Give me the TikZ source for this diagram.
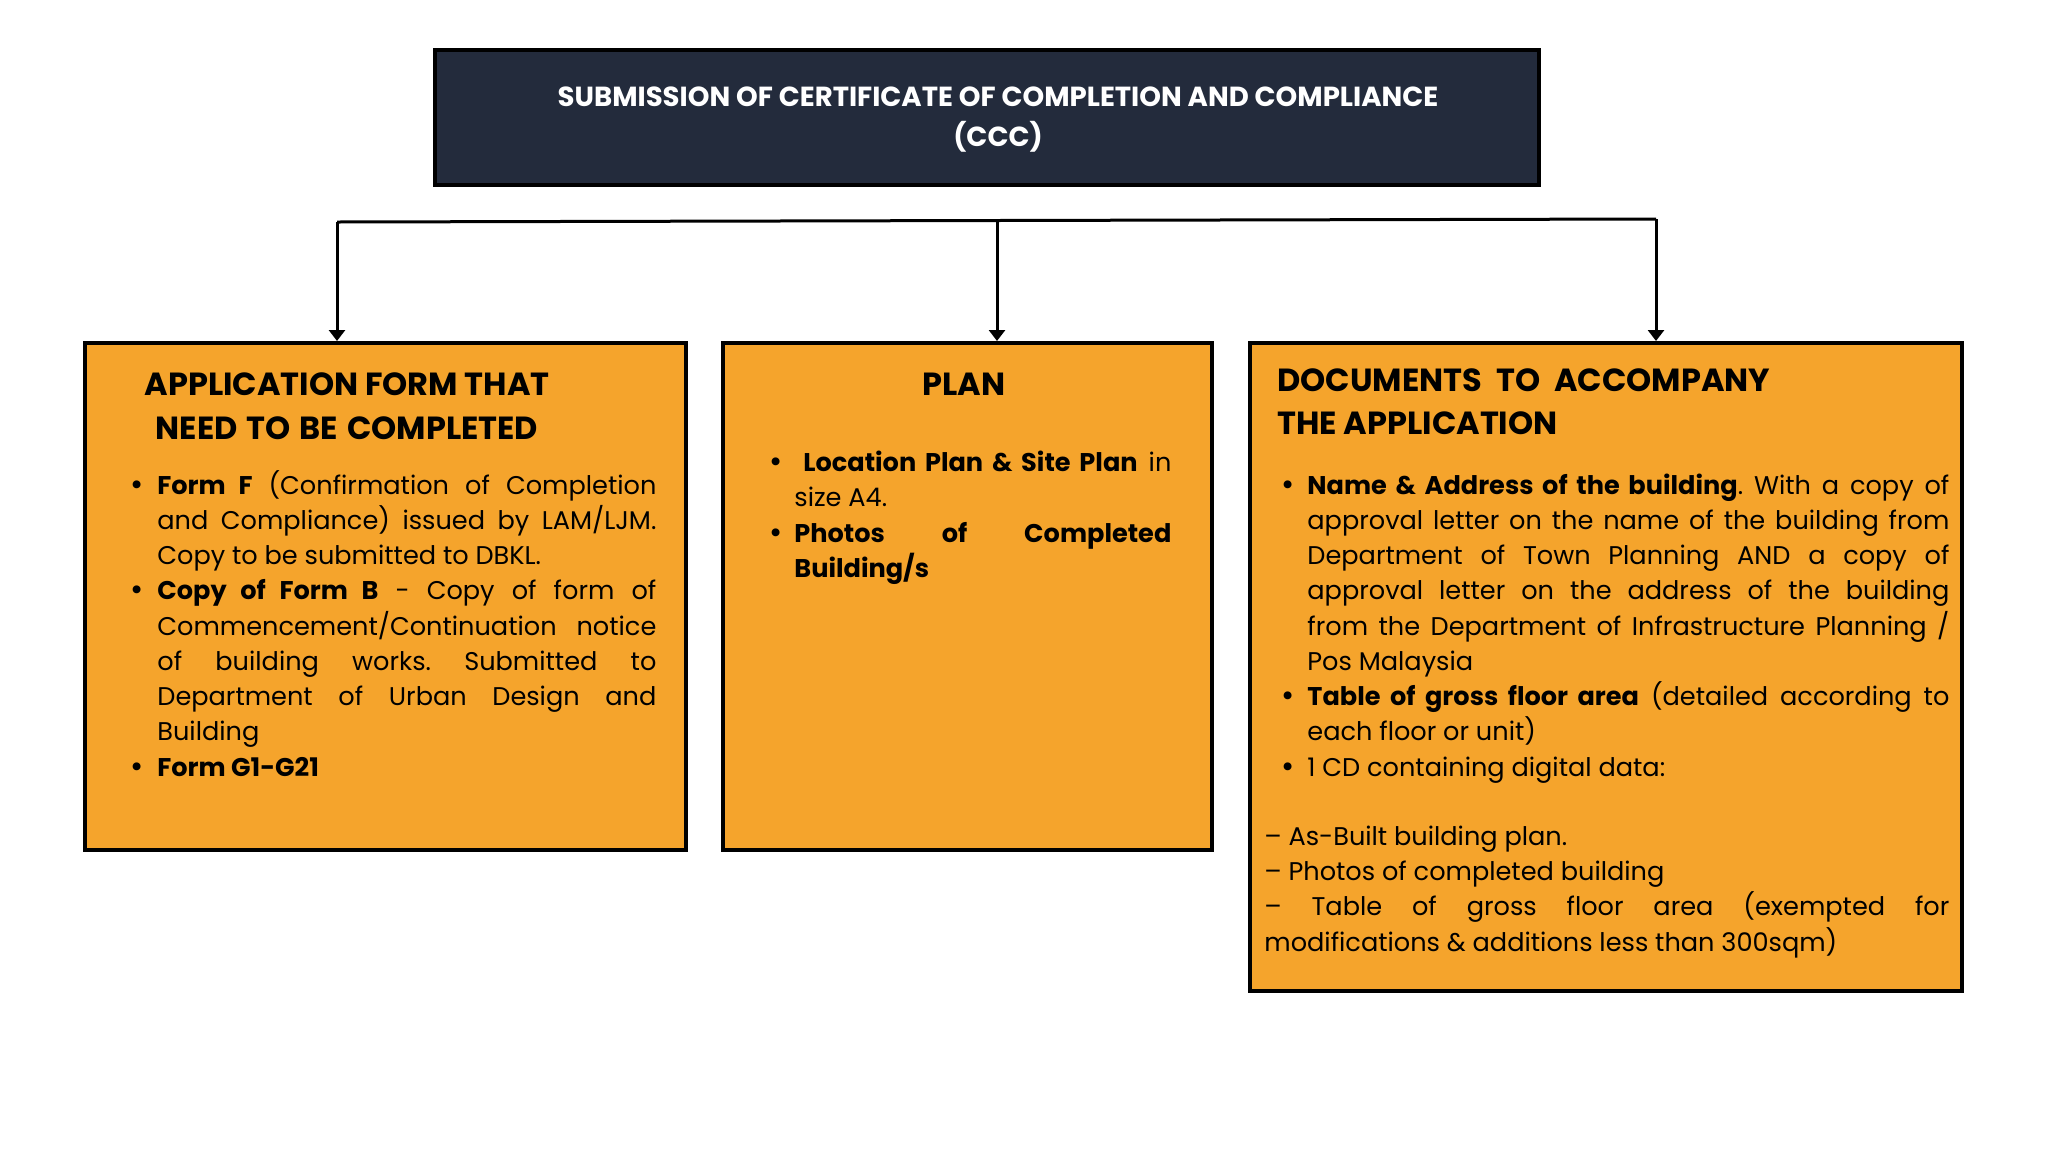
\documentclass[tikz,border=0pt]{standalone}
\usepackage{fontspec}
\setmainfont{Poppins}
\usetikzlibrary{arrows.meta}
\definecolor{navy}{HTML}{232B3C}
\definecolor{boxorange}{HTML}{F5A42C}
\newcommand\bodyf{\fontsize{12.8pt}{15pt}\selectfont\frenchspacing}
\newcommand\bulf{\fontsize{16pt}{15pt}\selectfont}
\newcommand\headf{\fontsize{16pt}{19pt}\selectfont\bfseries}
\newcommand\titlef{\fontsize{13.8pt}{16pt}\selectfont\bfseries}
\newcommand\jl[2]{\makebox[#1][s]{#2}}
\begin{document}
\begin{tikzpicture}[x=0.5pt,y=-0.5pt,
  box/.style={draw=black, line width=2pt, fill=boxorange, inner sep=0pt},
  titlebox/.style={draw=black, line width=2pt, fill=navy, inner sep=0pt},
  txt/.style={anchor=base west, inner sep=0pt, font=\bodyf, text=black},
  bul/.style={anchor=base, inner sep=0pt, font=\bulf, text=black},
  head/.style={anchor=base west, inner sep=0pt, font=\headf, text=black},
  headc/.style={anchor=base, inner sep=0pt, font=\headf, text=black},
  ttl/.style={anchor=base, inner sep=0pt, font=\titlef, text=white},
  link/.style={line width=1.5pt, draw=black},
  arr/.style={line width=1.5pt, draw=black, -{Triangle[width=8pt,length=5.5pt]}}]
\fill[white] (0,0) rectangle (2048,1152);
\useasboundingbox (0,0) rectangle (2048,1152);

% title
\node[titlebox, minimum width=552pt, minimum height=67.5pt] (T) at (987,117.5) {};
\node[ttl] (T1) at (998,106) {SUBMISSION OF CERTIFICATE OF COMPLETION AND COMPLIANCE};
\node[ttl] (T2) at (998,146) {(CCC)};

% boxes
\node[box, minimum width=300.5pt, minimum height=253.5pt] (A) at (385.5,596.5) {};
\node[box, minimum width=244.5pt, minimum height=253.5pt] (B) at (967.5,596.5) {};
\node[box, minimum width=356pt, minimum height=324pt] (C) at (1606,667) {};

% connectors
\coordinate (jl) at (337,222);
\coordinate (jm) at (997,220.5);
\coordinate (jr) at (1656,219);
\draw[link] (jl) -- (jm) -- (jr);
\draw[arr] (jl) -- (jl |- A.north);
\draw[arr] (jm) -- (jm |- B.north);
\draw[arr] (jr) -- (jr |- C.north);

% left box text
\node[headc] (AH1) at (347,395) {APPLICATION FORM THAT};
\node[headc] (AH2) at (347,439) {NEED\hspace{4.5pt}TO\hspace{4.5pt}BE\hspace{4.5pt}COMPLETED};
\node[bul] (Ab1) at (137,495) {•};
\node[txt] (A1) at (157,494) {\jl{249.5pt}{\textbf{Form F} (Confirmation of Completion}};
\node[txt] (A2) at (157,529) {\jl{249.5pt}{and Compliance) issued by LAM/LJM.}};
\node[txt] (A3) at (157,564) {Copy to be submitted to DBKL.};
\node[bul] (Ab2) at (137,600) {•};
\node[txt] (A4) at (157,599) {\jl{249.5pt}{\textbf{Copy of Form B} - Copy of form of}};
\node[txt] (A5) at (157,635) {\jl{249.5pt}{Commencement/Continuation notice}};
\node[txt] (A6) at (157,670) {\jl{249.5pt}{of building works. Submitted to}};
\node[txt] (A7) at (157,705) {\jl{249.5pt}{Department of Urban Design and}};
\node[txt] (A8) at (157,740) {Building};
\node[bul] (Ab3) at (137,777) {•};
\node[txt] (A9) at (157,776) {\textbf{Form G1-G21}};

% middle box text
\node[headc] (BH) at (964,395) {PLAN};
\node[bul] (Bb1) at (776,472) {•};
\node[txt] (B1) at (803,471) {\jl{184pt}{\textbf{Location Plan \& Site Plan} in}};
\node[txt] (B2) at (794,506.5) {size A4.};
\node[bul] (Bb2) at (776,543) {•};
\node[txt] (B3) at (794,542) {\jl{188.5pt}{\textbf{Photos of Completed}}};
\node[txt] (B4) at (794,577) {\textbf{Building/s}};

% right box text
\node[head] (CH1) at (1277,391) {DOCUMENTS\hspace{7pt}TO\hspace{7pt}ACCOMPANY};
\node[head] (CH2) at (1277,434) {THE APPLICATION};
\node[bul] (Cb1) at (1288,495) {•};
\node[txt] (C1) at (1307,494) {\jl{321pt}{\textbf{Name \& Address of the building}. With a copy of}};
\node[txt] (C2) at (1307,529) {\jl{321pt}{approval letter on the name of the building from}};
\node[txt] (C3) at (1307,564) {\jl{321pt}{Department of Town Planning AND a copy of}};
\node[txt] (C4) at (1307,599) {\jl{321pt}{approval letter on the address of the building}};
\node[txt] (C5) at (1307,635) {\jl{321pt}{from the Department of Infrastructure Planning /}};
\node[txt] (C6) at (1307,670) {Pos Malaysia};
\node[bul] (Cb2) at (1288,706) {•};
\node[txt] (C7) at (1307,705) {\jl{321pt}{\textbf{Table of gross floor area} (detailed according to}};
\node[txt] (C8) at (1307,740) {each floor or unit)};
\node[bul] (Cb3) at (1288,777) {•};
\node[txt] (C9) at (1307,776) {1 CD containing digital data:};
\node[txt] (D1) at (1264,845) {– As-Built building plan.};
\node[txt] (D2) at (1264,880) {– Photos of completed building};
\node[txt] (D3) at (1264,915) {\jl{342.5pt}{– Table of gross floor area (exempted for}};
\node[txt] (D4) at (1264,951) {modifications \& additions less than 300sqm)};
\end{tikzpicture}
\end{document}
